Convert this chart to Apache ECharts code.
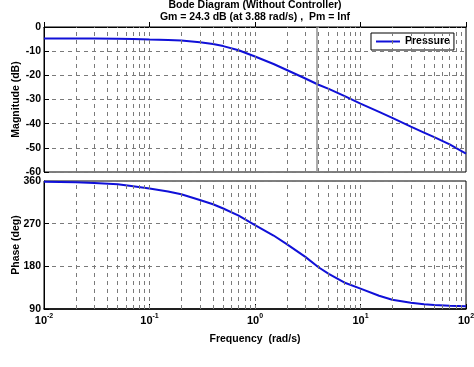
<!DOCTYPE html>
<html>
<head>
<meta charset="utf-8">
<script src="https://cdn.jsdelivr.net/npm/echarts@6/dist/echarts.min.js"></script>
<style>html,body{margin:0;padding:0;background:#fff}#c{width:474px;height:367px}</style>
</head>
<body>
<div id="c"></div>
<script>
const titleLines = ['Bode Diagram (Without Controller)', 'Gm = 24.3 dB (at 3.88 rad/s) ,  Pm = Inf'];
const seriesName = 'Pressure';
const freq      = [0.01, 0.02, 0.03, 0.05, 0.07, 0.1, 0.15, 0.2, 0.3, 0.4, 0.5, 0.7, 1, 1.5, 2, 3, 4, 5, 7, 10, 15, 20, 30, 40, 50, 70, 100];
const magnitude = [-4.8, -4.8, -4.8, -4.9, -5.0, -5.2, -5.4, -5.6, -6.3, -7.0, -7.9, -9.6, -12.2, -15.3, -17.8, -21.3, -23.9, -25.6, -28.5, -31.7, -35.1, -37.6, -41.2, -43.7, -45.6, -48.6, -52.4];
const phase     = [358.5, 357.5, 356, 353, 349, 344, 338, 332, 320, 311, 302, 287, 267, 245, 227, 200, 178, 164, 146, 133, 118, 109.5, 103, 100, 98.5, 97, 96];
const gmFreq = 3.88;
const magRange = [-60, 0, 10];
const phaseRange = [90, 360, 90];
const decades = [0.01, 0.1, 1, 10];
const minorMult = [2, 3, 4, 5, 6, 7, 8, 9];

const font = 'Liberation Sans, Arial, sans-serif';
const gridCol = '#7a7a7a';
const minorLines = [];
decades.forEach(d => minorMult.forEach(m => minorLines.push({xAxis: +(d * m).toPrecision(3)})));
const majorLines = [0.1, 1, 10].map(v => ({xAxis: v}));

function gridMarks(extra) {
  return {
    silent: true, symbol: 'none', animation: false,
    label: {show: false},
    lineStyle: {color: gridCol, type: [4, 4], width: 1},
    data: minorLines.concat(majorLines).concat(extra || [])
  };
}

const chart = echarts.init(document.getElementById('c'), null, {renderer: 'canvas'});
const xLabel = {
  fontFamily: font, fontWeight: 'bold', color: '#000', margin: 4,
  formatter: v => '{b|10}{s|' + Math.round(Math.log10(v)) + '}',
  rich: {b: {fontSize: 11, fontWeight: 'bold', fontFamily: font, color: '#000'},
         s: {fontSize: 7, fontWeight: 'bold', fontFamily: font, color: '#000', verticalAlign: 'top', padding: [0, 0, 8, 0]}}
};
const yLabel = {fontFamily: font, fontWeight: 'bold', fontSize: 10.5, color: '#000', margin: 3};
const axisName = {fontFamily: font, fontWeight: 'bold', fontSize: 10.5, color: '#000'};

chart.setOption({
  animation: false,
  backgroundColor: '#fff',
  graphic: [
    {type: 'text', x: 255, y: 0, style: {text: titleLines[0], textAlign: 'center', font: 'bold 10.5px ' + font, fill: '#000'}},
    {type: 'text', x: 255, y: 12, style: {text: titleLines[1], textAlign: 'center', font: 'bold 10.5px ' + font, fill: '#000'}}
  ],
  legend: {
    data: [seriesName], left: 371, top: 33, orient: 'vertical',
    backgroundColor: '#fff', borderColor: '#000', borderWidth: 1,
    padding: [3, 4, 3, 5], itemWidth: 24, itemHeight: 2, itemGap: 4, icon: 'rect',
    textStyle: {fontFamily: font, fontWeight: 'bold', fontSize: 10.5, color: '#000'}
  },
  grid: [
    {left: 44, top: 27, width: 422, height: 145, show: true, borderColor: '#000', borderWidth: 1, backgroundColor: 'transparent', outerBoundsMode: 'none', containLabel: false},
    {left: 44, top: 181, width: 422, height: 128, show: true, borderColor: '#000', borderWidth: 1, backgroundColor: 'transparent', outerBoundsMode: 'none', containLabel: false}
  ],
  xAxis: [
    {type: 'log', logBase: 10, min: 0.01, max: 100, gridIndex: 0,
     axisLine: {show: true, lineStyle: {color: '#000'}}, axisTick: {show: true, inside: true, length: 5, lineStyle: {color: '#000'}},
     axisLabel: {show: false}, splitLine: {show: false}},
    {type: 'log', logBase: 10, min: 0.01, max: 100, gridIndex: 1,
     axisLine: {show: true, lineStyle: {color: '#000', width: 1.5}}, axisTick: {show: true, inside: true, length: 5, lineStyle: {color: '#000'}},
     axisLabel: xLabel, splitLine: {show: false},
     name: 'Frequency  (rad/s)', nameLocation: 'middle', nameGap: 25, nameMoveOverlap: false, nameTextStyle: axisName}
  ],
  yAxis: [
    {type: 'value', gridIndex: 0, min: magRange[0], max: magRange[1], interval: magRange[2],
     axisLine: {show: true, lineStyle: {color: '#000'}}, axisTick: {show: true, inside: true, length: 5, lineStyle: {color: '#000'}},
     axisLabel: yLabel, splitLine: {show: true, lineStyle: {color: gridCol, type: [4, 4]}},
     name: 'Magnitude (dB)', nameLocation: 'middle', nameGap: 22, nameMoveOverlap: false, nameRotate: 90, nameTextStyle: axisName},
    {type: 'value', gridIndex: 1, min: phaseRange[0], max: phaseRange[1], interval: phaseRange[2],
     axisLine: {show: true, lineStyle: {color: '#000'}}, axisTick: {show: true, inside: true, length: 5, lineStyle: {color: '#000'}},
     axisLabel: yLabel, splitLine: {show: true, lineStyle: {color: gridCol, type: [4, 4]}},
     name: 'Phase (deg)', nameLocation: 'middle', nameGap: 22, nameMoveOverlap: false, nameRotate: 90, nameTextStyle: axisName}
  ],
  series: [
    {name: seriesName, type: 'line', xAxisIndex: 0, yAxisIndex: 0, showSymbol: false, smooth: false,
     lineStyle: {color: '#1010d8', width: 2}, itemStyle: {color: '#1010d8'},
     data: freq.map((f, i) => [f, magnitude[i]]),
     markLine: gridMarks([{xAxis: gmFreq, lineStyle: {type: 'solid', color: '#909090', width: 1.5}}])},
    {name: seriesName, type: 'line', xAxisIndex: 1, yAxisIndex: 1, showSymbol: false, smooth: false,
     lineStyle: {color: '#1010d8', width: 2}, itemStyle: {color: '#1010d8'},
     data: freq.map((f, i) => [f, phase[i]]),
     markLine: gridMarks()}
  ]
});
</script>
</body>
</html>
